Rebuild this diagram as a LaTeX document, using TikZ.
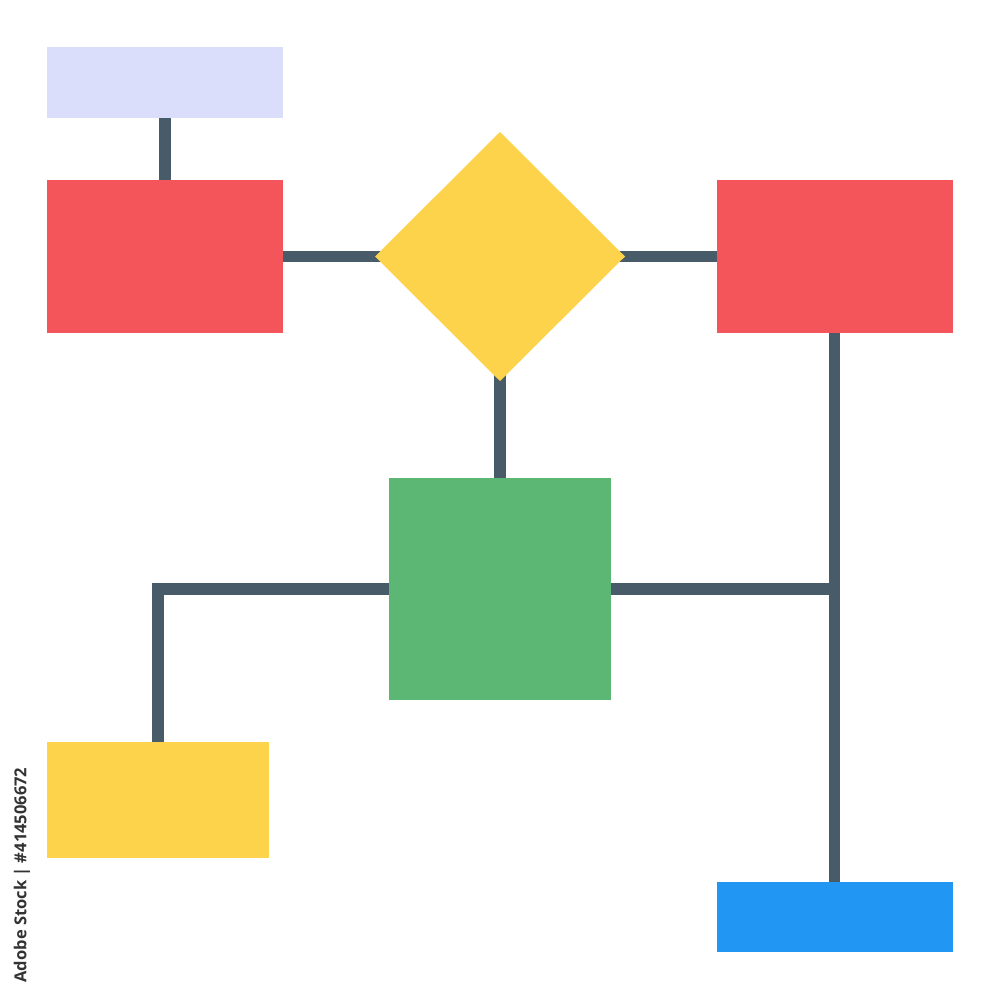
\documentclass[tikz,border=0pt]{standalone}
\usepackage{fontspec}
\setmainfont{Open Sans}
\usetikzlibrary{shapes.geometric,backgrounds}
\definecolor{lav}{HTML}{DADEFA}
\definecolor{redb}{HTML}{F4555A}
\definecolor{yel}{HTML}{FED34C}
\definecolor{grn}{HTML}{5CB775}
\definecolor{blu}{HTML}{2196F3}
\definecolor{wire}{HTML}{475B68}
\definecolor{wm}{HTML}{333333}
\tikzset{
  box/.style={rectangle, draw=none, inner sep=0pt, outer sep=0pt},
  wireline/.style={draw=wire, line width=11.5pt},
}
\begin{document}
\begin{tikzpicture}[x=1pt,y=-1pt]
\node[box, fill=lav, minimum width=236pt, minimum height=71pt] (lav) at (165,82.5) {};
\node[box, fill=redb, minimum width=236pt, minimum height=153pt] (redl) at (165,256.5) {};
\node[diamond, fill=yel, inner sep=0pt, outer sep=0pt, minimum width=250pt, minimum height=249pt] (dia) at (500,256.5) {};
\node[box, fill=redb, minimum width=236pt, minimum height=153pt] (redr) at (834.5,256.5) {};
\node[box, fill=grn, minimum width=222pt, minimum height=222pt] (grn) at (500,589) {};
\node[box, fill=yel, minimum width=222pt, minimum height=116pt] (yel) at (158,800) {};
\node[box, fill=blu, minimum width=236pt, minimum height=70pt] (blu) at (834.5,917) {};
\coordinate (tee) at (redr.south |- grn.east);
\node[rotate=90, text=wm, font=\bfseries\fontsize{16.5}{19}\selectfont, inner sep=0pt] (credit) at (22,875) {Adobe Stock | \#414506672};
\begin{scope}[on background layer]
\fill[white] (0,0) rectangle (1000,1000);
\draw[wireline] (lav.south) -- (redl.north);
\draw[wireline] (redl.east) -- (dia.center);
\draw[wireline] (dia.center) -- (redr.west);
\draw[wireline] (dia.center) -- (grn.north);
\draw[wireline] (grn.west) -| (yel.north);
\draw[wireline] (grn.east) -- (tee);
\draw[wireline] (redr.south) -- (blu.north);
\end{scope}
\useasboundingbox (0,0) rectangle (1000,1000);
\end{tikzpicture}
\end{document}
